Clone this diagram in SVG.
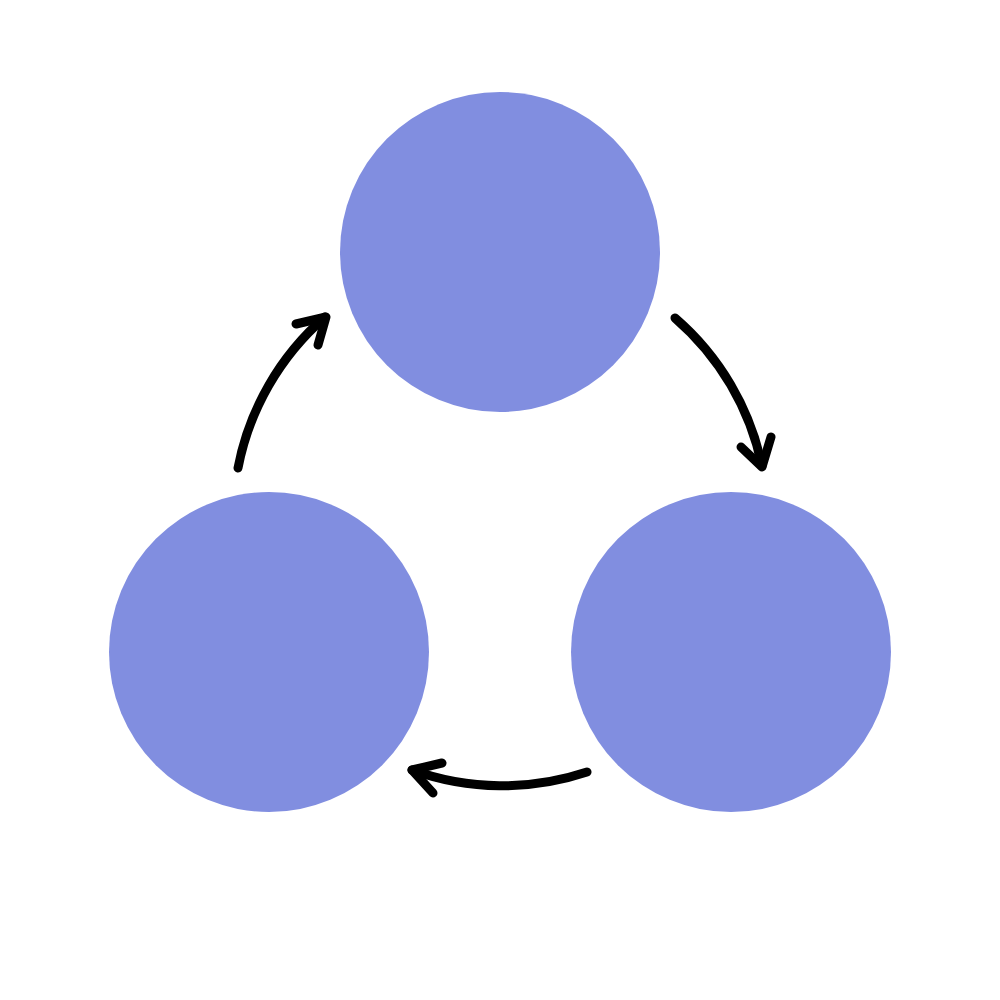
<svg xmlns="http://www.w3.org/2000/svg" width="1000" height="1000" viewBox="0 0 1000 1000">
<style>
.node{fill:#818ee0}
.conn{fill:none;stroke:#000;stroke-width:9;stroke-linecap:round;stroke-linejoin:round}
</style>
<rect width="1000" height="1000" fill="#fff"/>
<g id="node-top"><circle class="node" cx="500" cy="252" r="160"/></g>
<g id="node-right"><circle class="node" cx="731" cy="652" r="160"/></g>
<g id="node-left"><circle class="node" cx="269" cy="652" r="160"/></g>
<g id="connectors">
<path class="conn" d="M238 468 A267 267 0 0 1 325 317"/>
<polyline class="conn" points="296,324 326,317 318,345"/>
<path class="conn" d="M675 318 A267 267 0 0 1 762 466"/>
<polyline class="conn" points="741,447 762,467 771,437"/>
<path class="conn" d="M587 772 A267 267 0 0 1 412 770"/>
<polyline class="conn" points="442,763 412,770 433,793"/>
</g>
</svg>
